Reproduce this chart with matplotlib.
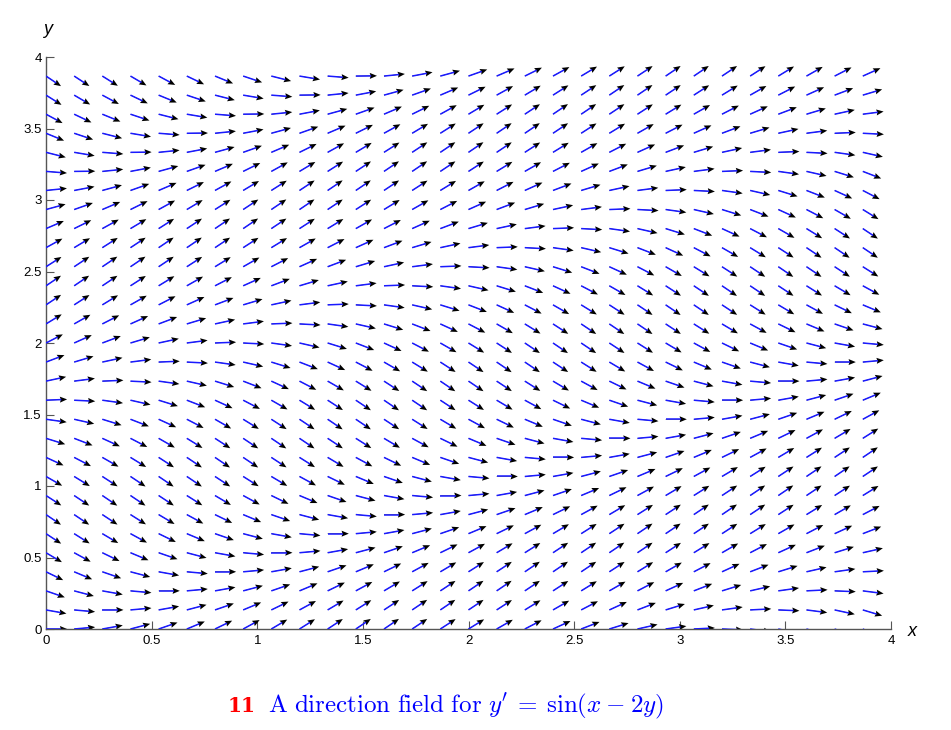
import numpy as np
import matplotlib
matplotlib.use("Agg")
import matplotlib.pyplot as plt
from matplotlib.collections import LineCollection

plt.rcParams['font.family'] = ['Liberation Sans', 'DejaVu Sans']
plt.rcParams['mathtext.fontset'] = 'cm'

# grid of the direction field (30 x 30 points, step 4/30) and the ODE y' = sin(x - 2y)
x_vals = np.arange(30) * 4 / 30
y_vals = np.arange(30) * 4 / 30
ticks = [0, 0.5, 1, 1.5, 2, 2.5, 3, 3.5, 4]
tick_labels = ['0', '0.5', '1', '1.5', '2', '2.5', '3', '3.5', '4']
arrow_len = 0.1

X, Y = np.meshgrid(x_vals, y_vals)
F = np.sin(X - 2 * Y)
U = arrow_len / np.sqrt(1 + F**2)
V = arrow_len * F / np.sqrt(1 + F**2)

W, H = 951, 730
fig = plt.figure(figsize=(W / 100, H / 100), dpi=100)
ax_l, ax_t, ax_r, ax_b = 46, 57, 891, 629
ax = fig.add_axes([ax_l / W, (H - ax_b) / H, (ax_r - ax_l) / W, (ax_b - ax_t) / H])
ax.set_xlim(0, 4)
ax.set_ylim(0, 4)

# black heads (thin black shaft gets covered by blue line)
sw = 0.5
head_ax = 6.4
ax.quiver(X, Y, U, V, angles='xy', scale_units='xy', scale=1, units='dots',
          width=sw, headwidth=6.0 / sw, headlength=7.2 / sw, headaxislength=head_ax / sw,
          color='black', zorder=2)

# blue shafts up to the head base
sx = (ax_r - ax_l) / 4
sy = (ax_b - ax_t) / 4
P = np.sqrt((U * sx)**2 + (V * sy)**2)
frac = (P - head_ax + 0.6) / P
segs = np.stack([np.stack([X, Y], -1), np.stack([X + U * frac, Y + V * frac], -1)], -2)
ax.add_collection(LineCollection(segs.reshape(-1, 2, 2), colors='#1a1aff',
                                 linewidths=1.1, capstyle='butt', zorder=3))

for s in ['top', 'right']:
    ax.spines[s].set_visible(False)
for s in ['left', 'bottom']:
    ax.spines[s].set_color('#555555')
    ax.spines[s].set_linewidth(1.0)
ax.set_xticks(ticks)
ax.set_xticklabels(tick_labels)
ax.set_yticks(ticks)
ax.set_yticklabels(tick_labels)
ax.tick_params(direction='in', length=5.5, width=0.8, color='#555555', labelsize=9.5)
ax.tick_params(axis='x', pad=4)
ax.tick_params(axis='y', pad=3)

fig.text(48 / W, (H - 30) / H, 'y', fontsize=13, style='italic', ha='center', va='center')
fig.text(912 / W, (H - 632) / H, 'x', fontsize=13, style='italic', ha='center', va='center')

base = (H - 712) / H
fig.text(228 / W, base, '11', color='red', fontsize=14.5, fontweight='bold',
         family='DejaVu Serif', ha='left', va='baseline')
fig.text(268 / W, base, r"$\mathrm{A\ direction\ field\ for}\ y'\:=\:\sin(x\:-\:2y)$",
         color='blue', fontsize=18, ha='left', va='baseline')

fig.savefig('out.png', dpi=100)
